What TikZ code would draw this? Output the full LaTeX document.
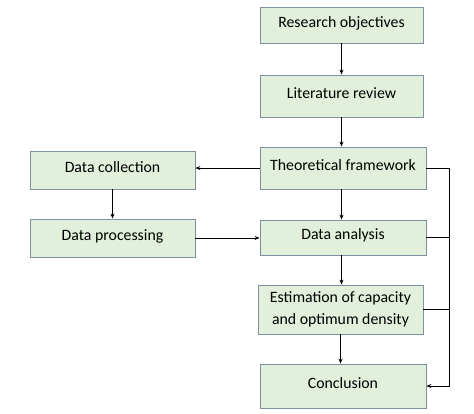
\documentclass[tikz,border=0pt]{standalone}
\usepackage{fontspec}
\setmainfont{Carlito}
\usepackage{tikz}
\usetikzlibrary{arrows.meta}
\definecolor{boxfill}{RGB}{226,239,218}
\definecolor{boxline}{RGB}{125,145,160}

\begin{document}
\begin{tikzpicture}[x=1pt, y=-1pt,
    box/.style={draw=boxline, fill=boxfill, line width=0.8pt, align=center,
        font=\fontsize{15.8}{22}\selectfont, inner sep=2pt},
    onebox/.style={box, text height=12pt, text depth=8pt},
    arr/.style={-{Stealth[length=5pt, width=4pt]}, line width=0.7pt}]
    \useasboundingbox (0,0) rectangle (474,413);
    % main column
    \node[onebox, minimum width=163pt, minimum height=36pt] (obj) at (341.5,25) {Research objectives};
    \node[onebox, minimum width=163pt, minimum height=42pt] (lit) at (341.5,96) {Literature review};
    \node[onebox, minimum width=166pt, minimum height=42pt] (theo) at (343,168) {Theoretical framework};
    \node[onebox, minimum width=166pt, minimum height=35pt] (anal) at (343,237.5) {Data analysis};
    \node[box, minimum width=165pt, minimum height=49pt] (est) at (340.5,309.5) {Estimation of capacity\\and optimum density};
    \node[onebox, minimum width=166pt, minimum height=44pt] (concl) at (343,386) {Conclusion};
    % left column
    \node[onebox, minimum width=165pt, minimum height=38pt] (coll) at (112.5,170) {Data collection};
    \node[onebox, minimum width=165pt, minimum height=38pt] (proc) at (112.5,238) {Data processing};
    \coordinate (bus) at (449,168);

    \draw[arr] (obj) -- (lit);
    \draw[arr] (lit.south) -- (lit.south |- theo.north);
    \draw[arr] (theo.south -| lit.south) -- (lit.south |- anal.north);
    \draw[arr] (anal.south -| lit.south) -- (lit.south |- est.north);
    \draw[arr] (est.south) -- (est.south |- concl.north);
    \draw[arr] (theo.west) -- (theo.west -| coll.east);
    \draw[arr] (coll) -- (proc);
    \draw[arr] (proc.east) -- (proc.east -| anal.west);
    % feedback line on the right
    \draw[arr] (theo.east) -- (bus) |- (concl.east);
    \draw[line width=0.7pt] (anal.east) -- (anal.east -| bus);
    \draw[line width=0.7pt] (est.east) -- (est.east -| bus);
\end{tikzpicture}
\end{document}
